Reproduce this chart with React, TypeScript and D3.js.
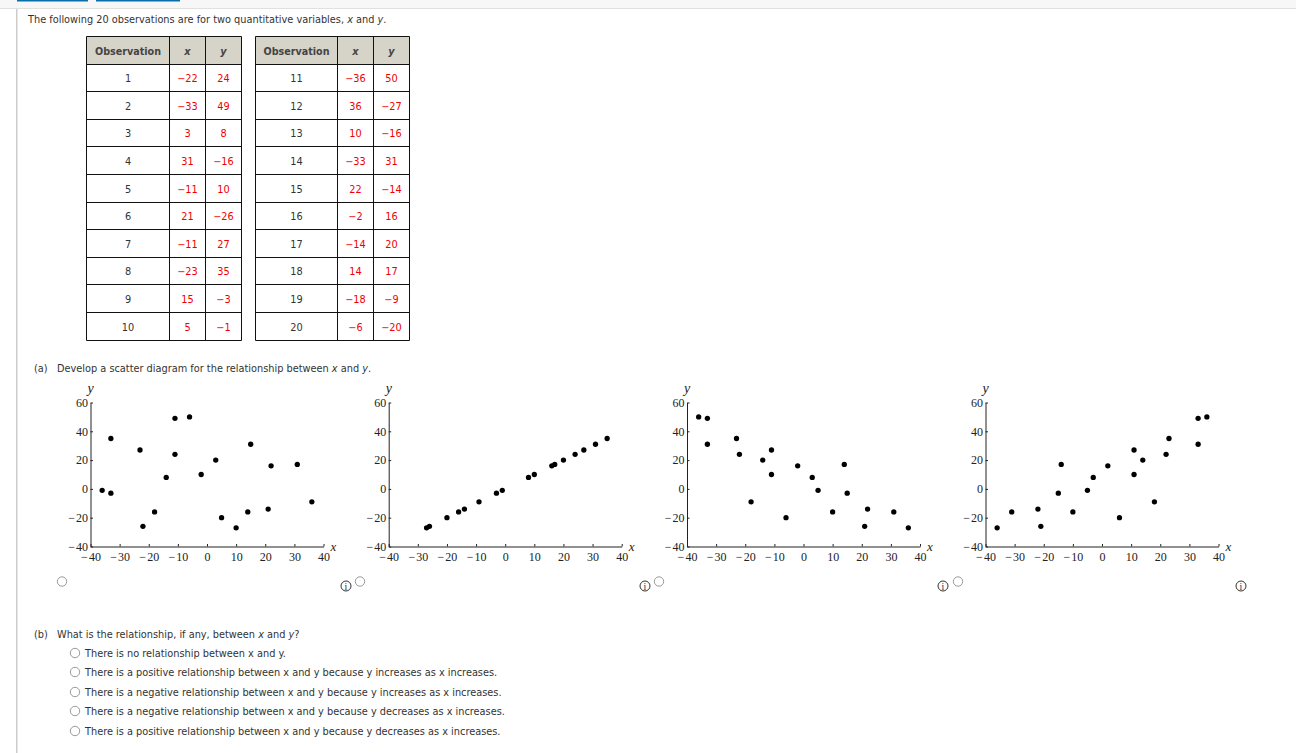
import React, { useRef, useEffect } from "react";
import * as d3 from "d3";

const width = 1296;
const height = 753;

const obsLeft = ["1", "2", "3", "4", "5", "6", "7", "8", "9", "10"];
const xLeft = [-22, -33, 3, 31, -11, 21, -11, -23, 15, 5];
const yLeft = [24, 49, 8, -16, 10, -26, 27, 35, -3, -1];
const obsRight = ["11", "12", "13", "14", "15", "16", "17", "18", "19", "20"];
const xRight = [-36, 36, 10, -33, 22, -2, -14, 14, -18, -6];
const yRight = [50, -27, -16, 31, -14, 16, 20, 17, -9, -20];

const scatterA: [number, number][] = [
  [-36, -1], [-33, -3], [-33, 35], [-23, 27], [-22, -26], [-18, -16], [-14, 8], [-11, 24], [-11, 49], [-6, 50],
  [-2, 10], [3, 20], [5, -20], [10, -27], [14, -16], [15, 31], [21, -14], [22, 16], [31, 17], [36, -9],
];
const scatterB: [number, number][] = [
  [-27, -27], [-26, -26], [-20, -20], [-16, -16], [-14, -14], [-9, -9], [-3, -3], [-1, -1], [8, 8],
  [10, 10], [16, 16], [17, 17], [20, 20], [24, 24], [27, 27], [31, 31], [35, 35],
];
const scatterC: [number, number][] = [
  [-36, 50], [-33, 49], [-33, 31], [-23, 35], [-22, 24], [-18, -9], [-14, 20], [-11, 27], [-11, 10], [-6, -20],
  [-2, 16], [3, 8], [5, -1], [10, -16], [14, 17], [15, -3], [21, -26], [22, -14], [31, -16], [36, -27],
];
const scatterD: [number, number][] = [
  [36, 50], [33, 49], [33, 31], [23, 35], [22, 24], [18, -9], [14, 20], [11, 27], [11, 10], [6, -20],
  [2, 16], [-3, 8], [-5, -1], [-10, -16], [-14, 17], [-15, -3], [-21, -26], [-22, -14], [-31, -16], [-36, -27],
];
const panels = [scatterA, scatterB, scatterC, scatterD];
const panelLeft = [90.5, 388.7, 687, 985.5];
const radioX = [62, 360, 659, 958];
const infoX = [346, 645, 943, 1241];

const xTicks = [-40, -30, -20, -10, 0, 10, 20, 30, 40];
const yTicks = [-40, -20, 0, 20, 40, 60];

const options = [
  "There is no relationship between x and y.",
  "There is a positive relationship between x and y because y increases as x increases.",
  "There is a negative relationship between x and y because y increases as x increases.",
  "There is a negative relationship between x and y because y decreases as x increases.",
  "There is a positive relationship between x and y because y decreases as x increases.",
];
const optionY = [653, 672, 692, 711, 731];

const sans = "Verdana, 'DejaVu Sans', sans-serif";
const serif = "'Liberation Serif', serif";
const bodySize = 9.78;
const fmt = (d: number) => (d < 0 ? "\u2212" + Math.abs(d) : String(d));
const tickFmt = (d: number) => (d < 0 ? "\u2212\u200a" + Math.abs(d) : String(d));

const App: React.FC = () => {
  const ref = useRef<SVGSVGElement | null>(null);

  useEffect(() => {
    const svg = d3.select(ref.current);
    svg.selectAll("*").remove();

    const text = (x: number, y: number, s: string, color = "#333", anchor = "start") =>
      svg
        .append("text")
        .attr("x", x)
        .attr("y", y)
        .attr("fill", color)
        .attr("text-anchor", anchor)
        .attr("font-family", sans)
        .attr("font-size", bodySize)
        .text(s);

    const mixed = (x: number, y: number, parts: [string, boolean][]) => {
      const t = svg
        .append("text")
        .attr("x", x)
        .attr("y", y)
        .attr("fill", "#333")
        .attr("font-family", sans)
        .attr("font-size", bodySize);
      parts.forEach(([s, it]) => t.append("tspan").attr("font-style", it ? "italic" : "normal").text(s));
    };

    const radio = (x: number, y: number) =>
      svg.append("circle").attr("cx", x).attr("cy", y).attr("r", 4.7).attr("fill", "#fff").attr("stroke", "#999").attr("stroke-width", 1);

    // page chrome
    svg.append("rect").attr("width", width).attr("height", 8).attr("fill", "#f7f7f7");
    svg.append("rect").attr("y", 8).attr("width", width).attr("height", 1).attr("fill", "#e0e0e0");
    svg.append("rect").attr("x", 17).attr("width", 71).attr("height", 1.5).attr("fill", "#0a6ea8");
    svg.append("rect").attr("x", 96).attr("width", 84).attr("height", 1.5).attr("fill", "#0a6ea8");
    svg.append("rect").attr("x", 16).attr("y", 9).attr("width", 1.5).attr("height", height - 9).attr("fill", "#ccc");

    mixed(28, 23, [["The following 20 observations are for two quantitative variables, ", false], ["x", true], [" and ", false], ["y", true], [".", false]]);

    // the two data tables
    const drawTable = (edges: number[], obs: string[], xs: number[], ys: number[]) => {
      const left = edges[0];
      const right = edges[3];
      const rowY = d3.scaleBand().domain(obs).range([64.5, 340.5]);
      const top = 36.5;
      svg.append("rect").attr("x", left).attr("y", top).attr("width", right - left).attr("height", 28).attr("fill", "#d6d3c9");
      const g = svg.append("g").attr("stroke", "#111").attr("stroke-width", 1);
      edges.forEach((c) => g.append("line").attr("x1", c).attr("x2", c).attr("y1", top).attr("y2", 340.5));
      g.append("line").attr("x1", left).attr("x2", right).attr("y1", top).attr("y2", top);
      g.append("line").attr("x1", left).attr("x2", right).attr("y1", 64.5).attr("y2", 64.5);
      obs.forEach((o) => {
        const b = Math.round((rowY(o) || 0) + rowY.bandwidth()) - 0.5;
        g.append("line").attr("x1", left).attr("x2", right).attr("y1", b).attr("y2", b);
      });
      const cx = (i: number) => (edges[i] + edges[i + 1]) / 2;
      text(cx(0), 55, "Observation", "#444", "middle").attr("font-weight", "bold").attr("font-size", 9.6);
      text(cx(1), 55, "x", "#444", "middle").attr("font-weight", "bold").attr("font-style", "italic");
      text(cx(2), 55, "y", "#444", "middle").attr("font-weight", "bold").attr("font-style", "italic");
      obs.forEach((o, i) => {
        const mid = (rowY(o) || 0) + rowY.bandwidth() / 2 + 3.8;
        text(cx(0), mid, o, "#333", "middle");
        text(cx(1), mid, fmt(xs[i]), "#f00000", "middle");
        text(cx(2), mid, fmt(ys[i]), "#f00000", "middle");
      });
    };
    drawTable([86.5, 169.5, 205.5, 241.5], obsLeft, xLeft, yLeft);
    drawTable([255.5, 337.5, 373.5, 409.5], obsRight, xRight, yRight);

    text(34, 372, "(a)");
    mixed(57, 372, [["Develop a scatter diagram for the relationship between ", false], ["x", true], [" and ", false], ["y", true], [".", false]]);

    // scatter panels
    panels.forEach((points, i) => {
      const left = panelLeft[i];
      const x = d3.scaleLinear().domain([-40, 40]).range([left, left + 233]);
      const y = d3.scaleLinear().domain([-40, 60]).range([546.5, 402.5]);
      const g = svg.append("g");

      const xAxis = g
        .append("g")
        .attr("transform", "translate(0,546.5)")
        .call(d3.axisBottom(x).tickValues(xTicks).tickFormat((d) => tickFmt(+d)).tickSizeInner(-2.5).tickSizeOuter(0).tickPadding(6));
      const yAxis = g
        .append("g")
        .attr("transform", `translate(${left},0)`)
        .call(d3.axisLeft(y).tickValues(yTicks).tickFormat((d) => tickFmt(+d)).tickSizeInner(-2.5).tickSizeOuter(0).tickPadding(2.5));
      [xAxis, yAxis].forEach((a) => {
        a.attr("font-family", serif).attr("font-size", 12);
        a.selectAll("text").attr("fill", "#222");
        a.selectAll("line,path").attr("stroke", "#222");
      });

      g.append("g")
        .selectAll("circle")
        .data(points)
        .enter()
        .append("circle")
        .attr("cx", (d) => x(d[0]))
        .attr("cy", (d) => y(d[1]))
        .attr("r", 2.65)
        .attr("fill", "#000");

      g.append("text").attr("x", left + 240).attr("y", 551).attr("font-family", serif).attr("font-style", "italic").attr("font-size", 13).attr("fill", "#222").text("x");
      g.append("text").attr("x", left - 3).attr("y", 393).attr("font-family", serif).attr("font-style", "italic").attr("font-size", 14).attr("fill", "#222").text("y");

      radio(radioX[i], 581.5);
      const ix = infoX[i];
      g.append("circle").attr("cx", ix).attr("cy", 586).attr("r", 5).attr("fill", "#fff").attr("stroke", "#333").attr("stroke-width", 1);
      g.append("text").attr("x", ix).attr("y", 590).attr("text-anchor", "middle").attr("font-family", serif).attr("font-size", 10).attr("fill", "#333").text("i");
    });

    text(34, 638, "(b)");
    mixed(57, 638, [["What is the relationship, if any, between ", false], ["x", true], [" and ", false], ["y", true], ["?", false]]);
    options.forEach((o, i) => {
      radio(75, optionY[i]);
      text(85, optionY[i] + 3.5, o);
    });
  }, []);

  return <svg ref={ref} width={width} height={height} style={{ position: "absolute", left: 0, top: 0, background: "#fff" }}></svg>;
};

export default App;
